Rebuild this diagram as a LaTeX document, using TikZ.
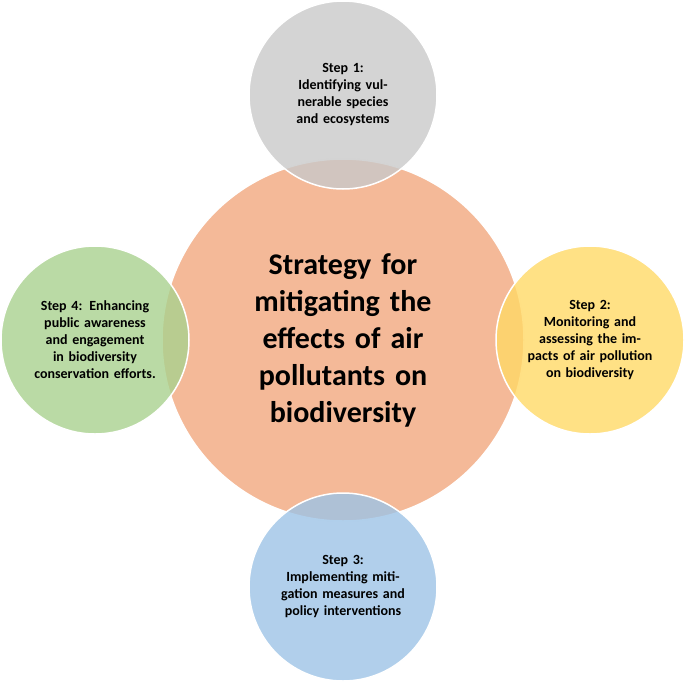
\documentclass[tikz,border=0pt]{standalone}
\usepackage{fontspec}
\setmainfont{Carlito}
\begin{document}
\begin{tikzpicture}[x=1pt,y=-1pt,
  sat/.style={circle,draw=white,line width=1.5pt,minimum size=188pt,inner sep=0pt,fill opacity=0.8,text opacity=1,align=center,font=\bfseries\fontsize{14}{17}\selectfont,text width=125pt},
  hub/.style={circle,draw=white,line width=1.5pt,fill=cOr,minimum size=362pt,inner sep=0pt,align=center,font=\bfseries\fontsize{30}{37}\selectfont,text width=230pt}]
\definecolor{cOr}{HTML}{F4B998}
\definecolor{cGr}{HTML}{C9C9C9}
\definecolor{cYe}{HTML}{FFD966}
\definecolor{cBl}{HTML}{9DC3E6}
\definecolor{cGn}{HTML}{A9D18E}
\useasboundingbox (0,0) rectangle (685,683);
\node[hub] (c) at (343,340) {Strategy for mitigating the effects of air pollutants on biodiversity};
\node[sat,fill=cGr] (s1) at (343,95) {Step 1:\\ Identifying vulnerable species and ecosystems};
\node[sat,fill=cYe] (s2) at (590,340) {Step 2:\\ Monitoring and assessing the impacts of air pollution on biodiversity};
\node[sat,fill=cBl] (s3) at (343,587) {Step 3:\\ Implementing mitigation measures and policy interventions};
\node[sat,fill=cGn] (s4) at (95,340) {Step 4: Enhancing public awareness and engagement in biodiversity conservation efforts.};
\end{tikzpicture}
\end{document}
